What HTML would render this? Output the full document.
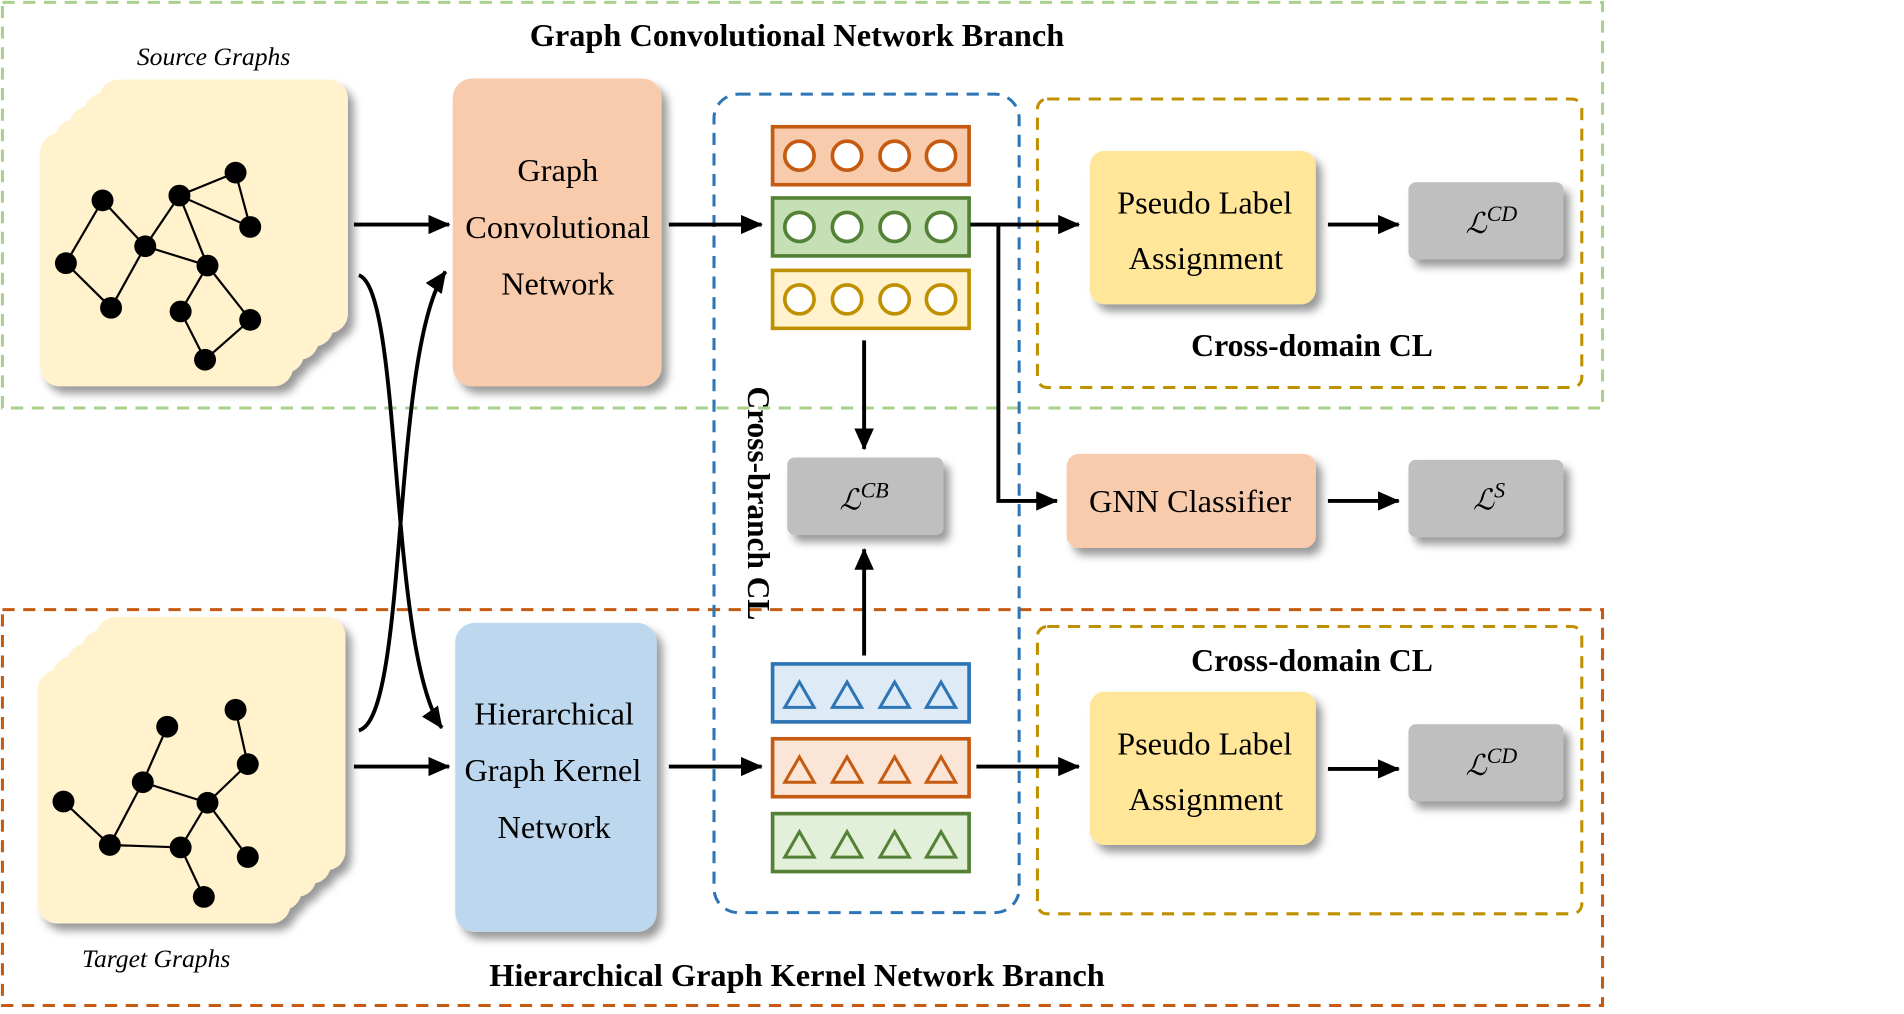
<!DOCTYPE html>
<html><head><meta charset="utf-8"><style>
html,body{margin:0;padding:0;background:#fff;overflow:hidden}
svg{display:block}
text{font-family:"Liberation Serif",serif;fill:#000}
</style></head><body>
<svg width="1904" height="1014" viewBox="0 0 1560 840" preserveAspectRatio="none" xmlns="http://www.w3.org/2000/svg">
<defs>
<filter id="sh" x="-20%" y="-20%" width="150%" height="150%"><feDropShadow dx="5" dy="6" stdDeviation="3.5" flood-color="#000" flood-opacity="0.4"/></filter>
<marker id="a2" markerWidth="18" markerHeight="16" refX="17" refY="8" orient="auto" markerUnits="userSpaceOnUse"><path d="M0,0 L18,8 L0,16 z" fill="#000"/></marker>
</defs>
<rect x="2" y="2" width="1311" height="336" fill="none" stroke="#a9d18e" stroke-width="2.5" stroke-dasharray="10,7"/>
<rect x="2" y="505" width="1311" height="328" fill="none" stroke="#c55a11" stroke-width="2.5" stroke-dasharray="10,7"/>
<text x="653" y="38" font-size="26.5" font-weight="bold" text-anchor="middle">Graph Convolutional Network Branch</text>
<text x="653" y="817" font-size="26.5" font-weight="bold" text-anchor="middle">Hierarchical Graph Kernel Network Branch</text>
<text x="175" y="54" font-size="21" font-style="italic" text-anchor="middle">Source Graphs</text>
<text x="128" y="801" font-size="21" font-style="italic" text-anchor="middle">Target Graphs</text>
<g filter="url(#sh)" fill="#fff2cc">
<rect x="81" y="66" width="204" height="210" rx="16"/>
<rect x="69" y="77" width="204" height="210" rx="16"/>
<rect x="57" y="88" width="204" height="210" rx="16"/>
<rect x="45" y="99" width="204" height="210" rx="16"/>
<rect x="33" y="110" width="207" height="210" rx="16"/>
</g>
<g stroke="#000" stroke-width="1.8">
<line x1="84" y1="166" x2="54" y2="218"/><line x1="84" y1="166" x2="119" y2="204"/><line x1="54" y1="218" x2="91" y2="255"/><line x1="91" y1="255" x2="119" y2="204"/><line x1="119" y1="204" x2="147" y2="162"/><line x1="147" y1="162" x2="193" y2="143"/><line x1="193" y1="143" x2="205" y2="188"/><line x1="147" y1="162" x2="205" y2="188"/><line x1="147" y1="162" x2="170" y2="220"/><line x1="119" y1="204" x2="170" y2="220"/><line x1="170" y1="220" x2="148" y2="258"/><line x1="170" y1="220" x2="205" y2="265"/><line x1="148" y1="258" x2="168" y2="298"/><line x1="205" y1="265" x2="168" y2="298"/>
</g>
<g fill="#000"><circle cx="84" cy="166" r="9"/><circle cx="147" cy="162" r="9"/><circle cx="193" cy="143" r="9"/><circle cx="205" cy="188" r="9"/><circle cx="119" cy="204" r="9"/><circle cx="170" cy="220" r="9"/><circle cx="54" cy="218" r="9"/><circle cx="91" cy="255" r="9"/><circle cx="148" cy="258" r="9"/><circle cx="205" cy="265" r="9"/><circle cx="168" cy="298" r="9"/></g>
<g filter="url(#sh)" fill="#fff2cc">
<rect x="79" y="511" width="204" height="210" rx="16"/>
<rect x="67" y="522" width="204" height="210" rx="16"/>
<rect x="55" y="533" width="204" height="210" rx="16"/>
<rect x="43" y="544" width="204" height="210" rx="16"/>
<rect x="31" y="555" width="207" height="210" rx="16"/>
</g>
<g stroke="#000" stroke-width="1.8">
<line x1="137" y1="602" x2="117" y2="648"/><line x1="193" y1="588" x2="203" y2="633"/><line x1="203" y1="633" x2="170" y2="665"/><line x1="117" y1="648" x2="170" y2="665"/><line x1="117" y1="648" x2="90" y2="700"/><line x1="52" y1="664" x2="90" y2="700"/><line x1="90" y1="700" x2="148" y2="702"/><line x1="148" y1="702" x2="170" y2="665"/><line x1="170" y1="665" x2="203" y2="710"/><line x1="148" y1="702" x2="167" y2="743"/>
</g>
<g fill="#000"><circle cx="137" cy="602" r="9"/><circle cx="193" cy="588" r="9"/><circle cx="203" cy="633" r="9"/><circle cx="117" cy="648" r="9"/><circle cx="170" cy="665" r="9"/><circle cx="52" cy="664" r="9"/><circle cx="90" cy="700" r="9"/><circle cx="148" cy="702" r="9"/><circle cx="203" cy="710" r="9"/><circle cx="167" cy="743" r="9"/></g>
<rect x="371" y="65" width="171" height="255" rx="16" fill="#f8cbad" filter="url(#sh)"/>
<g font-size="26.5" text-anchor="middle"><text x="457" y="150">Graph</text><text x="457" y="197">Convolutional</text><text x="457" y="244">Network</text></g>
<rect x="373" y="516" width="165" height="256" rx="16" fill="#bdd7ee" filter="url(#sh)"/>
<g font-size="26.5" text-anchor="middle"><text x="454" y="600">Hierarchical</text><text x="453" y="647">Graph Kernel</text><text x="454" y="694">Network</text></g>
<rect x="585" y="78" width="250" height="678" rx="20" fill="none" stroke="#2e75b6" stroke-width="2.5" stroke-dasharray="10,7"/>
<text transform="translate(613,417) rotate(90)" font-size="26" font-weight="bold" text-anchor="middle">Cross-branch CL</text>
<g stroke-width="3">
<rect x="633" y="105" width="161" height="48" fill="#f8cbad" stroke="#c55a11"/>
<g fill="#fff" stroke="#c55a11"><circle cx="655" cy="129" r="12"/><circle cx="694" cy="129" r="12"/><circle cx="733" cy="129" r="12"/><circle cx="771" cy="129" r="12"/></g>
<rect x="633" y="164" width="161" height="48" fill="#c5e0b4" stroke="#538135"/>
<g fill="#fff" stroke="#538135"><circle cx="655" cy="188" r="12"/><circle cx="694" cy="188" r="12"/><circle cx="733" cy="188" r="12"/><circle cx="771" cy="188" r="12"/></g>
<rect x="633" y="224" width="161" height="48" fill="#fff2cc" stroke="#bf9000"/>
<g fill="#fff" stroke="#bf9000"><circle cx="655" cy="248" r="12"/><circle cx="694" cy="248" r="12"/><circle cx="733" cy="248" r="12"/><circle cx="771" cy="248" r="12"/></g>
<rect x="633" y="550" width="161" height="48" fill="#deebf7" stroke="#2e75b6"/>
<g fill="none" stroke="#2e75b6" stroke-width="2.5"><path d="M643,586 L655,565 L667,586 Z"/><path d="M682,586 L694,565 L706,586 Z"/><path d="M721,586 L733,565 L745,586 Z"/><path d="M759,586 L771,565 L783,586 Z"/></g>
<rect x="633" y="612" width="161" height="48" fill="#fbe5d6" stroke="#c55a11"/>
<g fill="none" stroke="#c55a11" stroke-width="2.5"><path d="M643,648 L655,627 L667,648 Z"/><path d="M682,648 L694,627 L706,648 Z"/><path d="M721,648 L733,627 L745,648 Z"/><path d="M759,648 L771,627 L783,648 Z"/></g>
<rect x="633" y="674" width="161" height="48" fill="#e2f0d9" stroke="#538135"/>
<g fill="none" stroke="#538135" stroke-width="2.5"><path d="M643,710 L655,689 L667,710 Z"/><path d="M682,710 L694,689 L706,710 Z"/><path d="M721,710 L733,689 L745,710 Z"/><path d="M759,710 L771,689 L783,710 Z"/></g>
</g>
<rect x="645" y="379" width="128" height="64" rx="6" fill="#bfbfbf" filter="url(#sh)"/>
<text x="708" y="422" font-size="24" font-style="italic" text-anchor="middle">ℒ<tspan font-size="18" dy="-10">CB</tspan></text>
<rect x="850" y="82" width="446" height="239" rx="8" fill="none" stroke="#bf9000" stroke-width="2.5" stroke-dasharray="10,7"/>
<rect x="850" y="519" width="446" height="238" rx="8" fill="none" stroke="#bf9000" stroke-width="2.5" stroke-dasharray="10,7"/>
<text x="1075" y="295" font-size="26" font-weight="bold" text-anchor="middle">Cross-domain CL</text>
<text x="1075" y="556" font-size="26" font-weight="bold" text-anchor="middle">Cross-domain CL</text>
<rect x="893" y="125" width="185" height="127" rx="12" fill="#ffe699" filter="url(#sh)"/>
<g font-size="26.5" text-anchor="middle"><text x="987" y="177">Pseudo Label</text><text x="988" y="223">Assignment</text></g>
<rect x="893" y="573" width="185" height="127" rx="12" fill="#ffe699" filter="url(#sh)"/>
<g font-size="26.5" text-anchor="middle"><text x="987" y="625">Pseudo Label</text><text x="988" y="671">Assignment</text></g>
<rect x="1154" y="151" width="127" height="64" rx="6" fill="#bfbfbf" filter="url(#sh)"/>
<text x="1222" y="193" font-size="24" font-style="italic" text-anchor="middle">ℒ<tspan font-size="18" dy="-10">CD</tspan></text>
<rect x="1154" y="600" width="127" height="64" rx="6" fill="#bfbfbf" filter="url(#sh)"/>
<text x="1222" y="642" font-size="24" font-style="italic" text-anchor="middle">ℒ<tspan font-size="18" dy="-10">CD</tspan></text>
<rect x="874" y="376" width="204" height="78" rx="10" fill="#f8cbad" filter="url(#sh)"/>
<text x="975" y="424" font-size="26.5" text-anchor="middle">GNN Classifier</text>
<rect x="1154" y="381" width="127" height="64" rx="6" fill="#bfbfbf" filter="url(#sh)"/>
<text x="1220" y="422" font-size="24" font-style="italic" text-anchor="middle">ℒ<tspan font-size="18" dy="-10">S</tspan></text>
<g stroke="#000" stroke-width="3.2" fill="none" marker-end="url(#a2)">
<line x1="290" y1="186" x2="368" y2="186"/>
<line x1="548" y1="186" x2="624" y2="186"/>
<line x1="795" y1="186" x2="884" y2="186"/>
<polyline points="818,186 818,415 866,415"/>
<line x1="1088" y1="186" x2="1146" y2="186"/>
<line x1="708" y1="282" x2="708" y2="372"/>
<line x1="708" y1="543" x2="708" y2="455"/>
<line x1="1088" y1="415" x2="1146" y2="415"/>
<line x1="290" y1="635" x2="368" y2="635"/>
<line x1="548" y1="635" x2="624" y2="635"/>
<line x1="800" y1="635" x2="884" y2="635"/>
<line x1="1088" y1="637" x2="1146" y2="637"/>
<path d="M294,228 C330,240 318,540 362,603"/>
<path d="M294,605 C335,595 320,290 365,225"/>
</g>
</svg>
</body></html>
